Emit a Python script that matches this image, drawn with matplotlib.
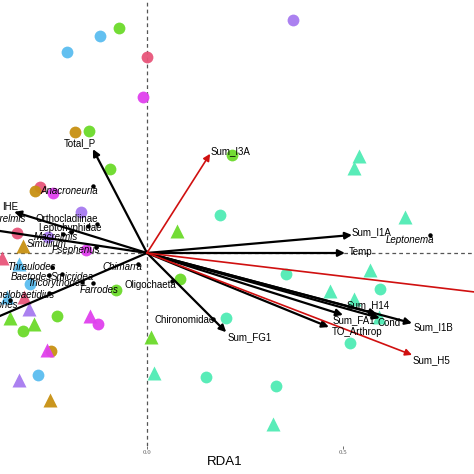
import matplotlib
matplotlib.use("Agg")
import matplotlib.pyplot as plt

# ---- site scores (RDA1, RDA2) ----
site_x = [-0.204, -0.120, -0.071, 0.000, -0.010, -0.184, -0.148, -0.094, -0.273, -0.286,
          -0.240, -0.168, -0.332, 0.217, 0.186, 0.372, -0.253, -0.156, -0.298, -0.079,
          0.084, -0.230, -0.316, -0.125, -0.245, -0.278, 0.202, 0.151, 0.355, 0.594,
          0.518, 0.329,
          0.077, 0.541, 0.528, 0.658, -0.370, -0.316, -0.327, -0.357, -0.314, -0.301,
          -0.349, -0.288, -0.145, -0.255, -0.327, -0.247, 0.010, 0.018, 0.569, 0.467,
          0.528, 0.592, 0.321]
site_y = [0.513, 0.554, 0.574, 0.500, 0.398, 0.309, 0.311, 0.214, 0.168, 0.158,
          0.153, 0.105, 0.051, 0.250, 0.097, 0.594, 0.041, 0.008, -0.079, -0.094,
          -0.066, -0.161, -0.199, -0.181, -0.250, -0.311, -0.166, -0.316, -0.054, -0.092,
          -0.230, -0.339,
          0.056, 0.247, 0.217, 0.092, -0.013, 0.018, -0.028, -0.112, -0.112, -0.143,
          -0.166, -0.181, -0.161, -0.247, -0.324, -0.375, -0.214, -0.306, -0.043, -0.097,
          -0.117, -0.163, -0.436]
site_group = ["blue", "blue", "green", "red", "magenta", "brown", "green", "green", "red", "brown",
              "magenta", "purple", "red", "green", "teal", "purple", "purple", "magenta", "blue", "green",
              "green", "green", "green", "magenta", "brown", "blue", "teal", "teal", "teal", "teal",
              "teal", "teal",
              "green", "teal", "teal", "teal", "red", "brown", "blue", "blue", "red", "purple",
              "green", "green", "magenta", "magenta", "purple", "brown", "green", "teal", "teal", "teal",
              "teal", "teal", "teal"]
site_shape = ["circle"] * 32 + ["triangle"] * 23

# ---- environmental vectors ----
env_names = ["Total_P", "IHE", "", "", "Temp", "Sum_I1A", "Sum_FA1", "Sum_H14", "Cond",
             "Sum_I1B", "TO_Arthrop", "Sum_FG1", "Sum_I3A", "Sum_H5", ""]
env_x = [-0.138, -0.339, -0.528, -0.500, 0.505, 0.523, 0.500, 0.587, 0.594,
         0.676, 0.464, 0.202, 0.161, 0.676, 1.000]
env_y = [0.265, 0.105, 0.079, -0.214, 0.000, 0.046, -0.158, -0.156, -0.166,
         -0.179, -0.189, -0.202, 0.253, -0.260, -0.119]
env_sig = [False, False, False, False, False, False, False, False, False,
           False, False, False, True, True, True]

# ---- species scores ----
sp_names = ["Anacroneuria", "Orthocladiinae", "Leptohyphidae", "Macrelmis", "Simulium",
            "Psephenus", "Heterelmis", "Thraulodes", "Baetodes", "Smicridea", "Tricorythodes",
            "Farrodes", "Camelobaetidius", "Leptohyphes", "Chimarra", "Oligochaeta",
            "Chironomidae", "Leptonema"]
sp_x = [-0.138, -0.128, -0.151, -0.194, -0.214, -0.130, -0.400, -0.242, -0.250, -0.217,
        -0.166, -0.138, -0.250, -0.349, -0.023, 0.064, 0.168, 0.722]
sp_y = [0.171, 0.074, 0.069, 0.054, 0.048, 0.015, 0.090, -0.036, -0.056, -0.054,
        -0.074, -0.077, -0.102, -0.120, -0.028, -0.071, -0.168, 0.046]
sp_italic = [True, False, False, True, True, True, True, True, True, True, True,
             True, True, True, True, False, False, True]

# ---- styles ----
colors = {"blue": "#5BBDF0", "green": "#6BDA2A", "red": "#E8557A", "magenta": "#E040EE",
          "brown": "#C89012", "purple": "#A77AF0", "teal": "#50EBB4"}
env_offsets = [(-13, 6, "center"), (-4, 5, "center"), (0, 0, "left"), (0, 0, "left"),
               (4, 1, "left"), (0, 3, "left"), (-10, -5, "left"), (-31, 9, "left"),
               (-2, -5, "left"), (2, -4, "left"), (3, -5, "left"), (1, -5, "left"),
               (0, 3, "left"), (1, -5, "left"), (0, 0, "left")]
sp_offsets = [(-24, -5, "center"), (-30, 5, "center"), (-18, -2, "center"), (-15, -5, "center"),
              (-16, -10, "center"), (-20, -3, "center"), (13, -1, "center"), (-21, 0, "center"),
              (-18, -2, "center"), (10, -3, "center"), (-26, -1, "center"), (6, -7, "center"),
              (6, -2, "right"), (8, -5, "right"), (-16, -3, "center"), (-22, -4, "center"),
              (-28, -1, "center"), (-20, -5, "center")]

plt.rcParams["font.family"] = ["Liberation Sans", "DejaVu Sans"]
fig = plt.figure(figsize=(4.74, 4.74), dpi=100)
ax = fig.add_axes([0, 28 / 474, 1, 446 / 474])
ax.set_xlim(-147 / 392, 327 / 392)
ax.set_ylim(-193 / 392, 253 / 392)
for s in ax.spines.values():
    s.set_visible(False)
ax.set_yticks([])
ax.set_xticks([0.0, 0.5])
ax.set_xticklabels(["0.0", "0.5"], fontsize=4, family="DejaVu Serif", color="#444444")
ax.tick_params(axis="x", length=2, width=0.6, colors="#555555", pad=1)

ax.axhline(0, color="#555555", lw=0.9, ls=(0, (3, 2.5)), zorder=1)
ax.axvline(0, color="#555555", lw=0.9, ls=(0, (3, 2.5)), zorder=1)

for x, y, g, sh in zip(site_x, site_y, site_group, site_shape):
    if sh == "circle":
        ax.plot(x, y, "o", ms=8.5, color=colors[g], mec="none", alpha=0.95, zorder=2)
    else:
        ax.plot(x, y, "^", ms=10, color=colors[g], mec="none", alpha=0.95, zorder=2)

for name, x, y, sig, off in zip(env_names, env_x, env_y, env_sig, env_offsets):
    col = "#D01010" if sig else "black"
    lw = 1.2 if sig else 1.6
    ax.annotate("", xy=(x, y), xytext=(0, 0), annotation_clip=False,
                arrowprops=dict(arrowstyle="-|>", color=col, lw=lw, mutation_scale=10,
                                shrinkA=0, shrinkB=0), zorder=4)
    if name:
        ax.annotate(name, xy=(x, y), xytext=(off[0], off[1]), textcoords="offset pixels",
                    ha=off[2], va="center", fontsize=7, color="black", zorder=5,
                    annotation_clip=False)

for name, x, y, it, off in zip(sp_names, sp_x, sp_y, sp_italic, sp_offsets):
    ax.plot(x, y, "o", ms=2.2, color="black", zorder=5, clip_on=True)
    ax.annotate(name, xy=(x, y), xytext=(off[0], off[1]), textcoords="offset pixels",
                ha=off[2], va="center", fontsize=7, style="italic" if it else "normal",
                color="black", zorder=6, annotation_clip=False)

fig.text(225 / 474, 1 - 462 / 474, "RDA1", ha="center", va="center", fontsize=9.5)
fig.savefig("out.png", dpi=100)
